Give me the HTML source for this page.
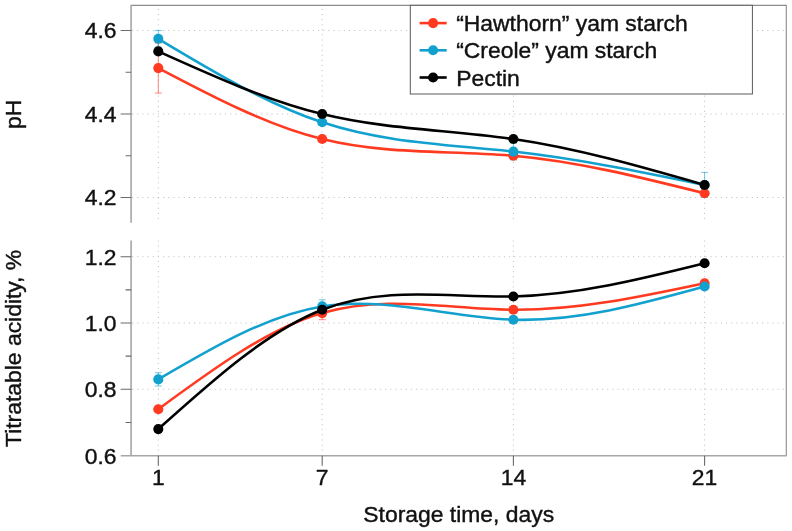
<!DOCTYPE html>
<html lang="en"><head><meta charset="utf-8"><title>Chart</title>
<style>html,body{margin:0;padding:0;background:#fff}svg{display:block}</style></head>
<body>
<svg width="792" height="531" viewBox="0 0 792 531">
<rect width="792" height="531" fill="#fff"/>
<path d="M132.1,30.5H785.3M132.1,114.0H785.3M132.1,197.5H785.3M132.1,256.7H785.3M132.1,323.0H785.3M132.1,389.3H785.3" stroke="#c2c2c2" stroke-width="1" stroke-dasharray="1.1 4.064" fill="none"/>
<path d="M158.3,8.9V222.8M158.3,240.5V454.8M322.2,8.9V222.8M322.2,240.5V454.8M513.4,8.9V222.8M513.4,240.5V454.8M704.6,8.9V222.8M704.6,240.5V454.8" stroke="#c2c2c2" stroke-width="1" stroke-dasharray="1.1 4.0" fill="none"/>
<path d="M131.1,5.3H786.3" fill="none" stroke="#707070" stroke-width="1"/>
<path d="M786.3,4.8V455.8" fill="none" stroke="#8c8c8c" stroke-width="1.1"/>
<path d="M131.1,222.8V4.8M131.1,240.5V455.8M120.8,455.8H786.8" fill="none" stroke="#a6a6a6" stroke-width="1.6"/>
<path d="M120.6,30.5H131.1M120.6,114.0H131.1M120.6,197.5H131.1M125.6,72.2H131.1M125.6,155.7H131.1M120.6,256.7H131.1M120.6,323.0H131.1M120.6,389.3H131.1M125.6,289.9H131.1M125.6,356.1H131.1M125.6,422.5H131.1M158.3,455.8V465.8M322.2,455.8V465.8M513.4,455.8V465.8M704.6,455.8V465.8" fill="none" stroke="#6a6a6a" stroke-width="1.1"/>
<path d="M158.3,93.1V43.0M154.8,93.1h7M154.8,43.0h7" fill="none" stroke="#ff3a20" stroke-width="0.8" opacity="0.75"/>
<path d="M158.3,47.2V30.5M154.8,47.2h7M154.8,30.5h7M513.4,159.9V143.2M509.9,159.9h7M509.9,143.2h7M704.6,197.5V172.4M701.1,197.5h7M701.1,172.4h7" fill="none" stroke="#12a1cf" stroke-width="0.8" opacity="0.75"/>
<path d="M158.30,68.07 C212.93,96.78 267.56,125.48 322.19,139.05 C385.93,154.89 449.66,150.14 513.39,155.75 C577.13,161.36 640.87,177.34 704.60,193.32" fill="none" stroke="#ff3a20" stroke-width="2.6" stroke-linecap="round"/>
<circle cx="158.3" cy="68.1" r="5.05" fill="#ff3a20"/>
<circle cx="322.2" cy="139.0" r="5.05" fill="#ff3a20"/>
<circle cx="513.4" cy="155.7" r="5.05" fill="#ff3a20"/>
<circle cx="704.6" cy="193.3" r="5.05" fill="#ff3a20"/>
<path d="M158.30,38.85 C212.93,71.58 267.56,104.31 322.19,122.35 C385.93,143.40 449.66,144.47 513.39,151.58 C577.13,158.68 640.87,171.83 704.60,184.97" fill="none" stroke="#12a1cf" stroke-width="2.6" stroke-linecap="round"/>
<circle cx="158.3" cy="38.8" r="5.05" fill="#12a1cf"/>
<circle cx="322.2" cy="122.3" r="5.05" fill="#12a1cf"/>
<circle cx="513.4" cy="151.6" r="5.05" fill="#12a1cf"/>
<circle cx="704.6" cy="185.0" r="5.05" fill="#12a1cf"/>
<path d="M158.30,51.37 C212.93,76.01 267.56,100.65 322.19,114.00 C385.93,129.57 449.66,129.78 513.39,139.05 C577.13,148.32 640.87,166.65 704.60,184.97" fill="none" stroke="#000000" stroke-width="2.6" stroke-linecap="round"/>
<circle cx="158.3" cy="51.4" r="5.05" fill="#000000"/>
<circle cx="322.2" cy="114.0" r="5.05" fill="#000000"/>
<circle cx="513.4" cy="139.0" r="5.05" fill="#000000"/>
<circle cx="704.6" cy="185.0" r="5.05" fill="#000000"/>
<path d="M322.2,319.7V306.4M318.7,319.7h7M318.7,306.4h7" fill="none" stroke="#ff3a20" stroke-width="0.8" opacity="0.75"/>
<path d="M158.3,386.0V372.7M154.8,386.0h7M154.8,372.7h7M322.2,313.1V299.8M318.7,313.1h7M318.7,299.8h7" fill="none" stroke="#12a1cf" stroke-width="0.8" opacity="0.75"/>
<path d="M158.30,409.19 C212.93,369.04 267.56,328.89 322.19,313.06 C385.93,294.58 449.66,309.20 513.39,309.74 C577.13,310.28 640.87,296.75 704.60,283.22" fill="none" stroke="#ff3a20" stroke-width="2.6" stroke-linecap="round"/>
<circle cx="158.3" cy="409.2" r="5.05" fill="#ff3a20"/>
<circle cx="322.2" cy="313.1" r="5.05" fill="#ff3a20"/>
<circle cx="513.4" cy="309.7" r="5.05" fill="#ff3a20"/>
<circle cx="704.6" cy="283.2" r="5.05" fill="#ff3a20"/>
<path d="M158.30,379.36 C212.93,347.27 267.56,315.19 322.19,306.43 C385.93,296.20 449.66,317.71 513.39,319.69 C577.13,321.66 640.87,304.10 704.60,286.53" fill="none" stroke="#12a1cf" stroke-width="2.6" stroke-linecap="round"/>
<circle cx="158.3" cy="379.4" r="5.05" fill="#12a1cf"/>
<circle cx="322.2" cy="306.4" r="5.05" fill="#12a1cf"/>
<circle cx="513.4" cy="319.7" r="5.05" fill="#12a1cf"/>
<circle cx="704.6" cy="286.5" r="5.05" fill="#12a1cf"/>
<path d="M158.30,429.08 C212.93,380.04 267.56,331.01 322.19,309.74 C385.93,284.93 449.66,297.92 513.39,296.48 C577.13,295.04 640.87,279.19 704.60,263.33" fill="none" stroke="#000000" stroke-width="2.6" stroke-linecap="round"/>
<circle cx="158.3" cy="429.1" r="5.05" fill="#000000"/>
<circle cx="322.2" cy="309.7" r="5.05" fill="#000000"/>
<circle cx="513.4" cy="296.5" r="5.05" fill="#000000"/>
<circle cx="704.6" cy="263.3" r="5.05" fill="#000000"/>
<rect x="410.3" y="5.3" width="342.09999999999997" height="88.7" fill="#fff" stroke="#5a5a5a" stroke-width="1"/>
<path d="M419.6,23.1H446.7" stroke="#ff3a20" stroke-width="2.6" fill="none"/>
<circle cx="433.1" cy="23.1" r="5.05" fill="#ff3a20"/>
<text transform="translate(456.2,31.1) scale(1.0505,1)" font-family="'Liberation Sans', Arial, Helvetica, sans-serif" font-size="21.8" fill="#111" stroke="#111" stroke-width="0.4">“Hawthorn” yam starch</text>
<path d="M419.6,50.3H446.7" stroke="#12a1cf" stroke-width="2.6" fill="none"/>
<circle cx="433.1" cy="50.3" r="5.05" fill="#12a1cf"/>
<text transform="translate(456.2,58.3) scale(1.0505,1)" font-family="'Liberation Sans', Arial, Helvetica, sans-serif" font-size="21.8" fill="#111" stroke="#111" stroke-width="0.4">“Creole” yam starch</text>
<path d="M419.6,77.5H446.7" stroke="#000000" stroke-width="2.6" fill="none"/>
<circle cx="433.1" cy="77.5" r="5.05" fill="#000000"/>
<text transform="translate(456.2,85.5) scale(1.0505,1)" font-family="'Liberation Sans', Arial, Helvetica, sans-serif" font-size="21.8" fill="#111" stroke="#111" stroke-width="0.4">Pectin</text>
<text transform="translate(116.5,38.4) scale(1.0269,1)" text-anchor="end" font-family="'Liberation Sans', Arial, Helvetica, sans-serif" font-size="22.3" fill="#111" stroke="#111" stroke-width="0.4">4.6</text>
<text transform="translate(116.5,121.9) scale(1.0269,1)" text-anchor="end" font-family="'Liberation Sans', Arial, Helvetica, sans-serif" font-size="22.3" fill="#111" stroke="#111" stroke-width="0.4">4.4</text>
<text transform="translate(116.5,205.4) scale(1.0269,1)" text-anchor="end" font-family="'Liberation Sans', Arial, Helvetica, sans-serif" font-size="22.3" fill="#111" stroke="#111" stroke-width="0.4">4.2</text>
<text transform="translate(116.5,264.6) scale(1.0269,1)" text-anchor="end" font-family="'Liberation Sans', Arial, Helvetica, sans-serif" font-size="22.3" fill="#111" stroke="#111" stroke-width="0.4">1.2</text>
<text transform="translate(116.5,330.9) scale(1.0269,1)" text-anchor="end" font-family="'Liberation Sans', Arial, Helvetica, sans-serif" font-size="22.3" fill="#111" stroke="#111" stroke-width="0.4">1.0</text>
<text transform="translate(116.5,397.2) scale(1.0269,1)" text-anchor="end" font-family="'Liberation Sans', Arial, Helvetica, sans-serif" font-size="22.3" fill="#111" stroke="#111" stroke-width="0.4">0.8</text>
<text transform="translate(116.5,463.5) scale(1.0269,1)" text-anchor="end" font-family="'Liberation Sans', Arial, Helvetica, sans-serif" font-size="22.3" fill="#111" stroke="#111" stroke-width="0.4">0.6</text>
<text transform="translate(158.3,485.3)" text-anchor="middle" font-family="'Liberation Sans', Arial, Helvetica, sans-serif" font-size="22.9" fill="#111" stroke="#111" stroke-width="0.4">1</text>
<text transform="translate(322.2,485.3)" text-anchor="middle" font-family="'Liberation Sans', Arial, Helvetica, sans-serif" font-size="22.9" fill="#111" stroke="#111" stroke-width="0.4">7</text>
<text transform="translate(513.4,485.3)" text-anchor="middle" font-family="'Liberation Sans', Arial, Helvetica, sans-serif" font-size="22.9" fill="#111" stroke="#111" stroke-width="0.4">14</text>
<text transform="translate(704.6,485.3)" text-anchor="middle" font-family="'Liberation Sans', Arial, Helvetica, sans-serif" font-size="22.9" fill="#111" stroke="#111" stroke-width="0.4">21</text>
<text transform="translate(458.7,521.7)" text-anchor="middle" font-family="'Liberation Sans', Arial, Helvetica, sans-serif" font-size="22.9" fill="#111" stroke="#111" stroke-width="0.4">Storage time, days</text>
<text transform="translate(20.8,114.3) rotate(-90)" text-anchor="middle" font-family="'Liberation Sans', Arial, Helvetica, sans-serif" font-size="22.9" fill="#111" stroke="#111" stroke-width="0.4">pH</text>
<text transform="translate(21.0,348.4) rotate(-90)" text-anchor="middle" font-family="'Liberation Sans', Arial, Helvetica, sans-serif" font-size="22.9" fill="#111" stroke="#111" stroke-width="0.4">Titratable acidity, %</text>
</svg>
</body></html>
